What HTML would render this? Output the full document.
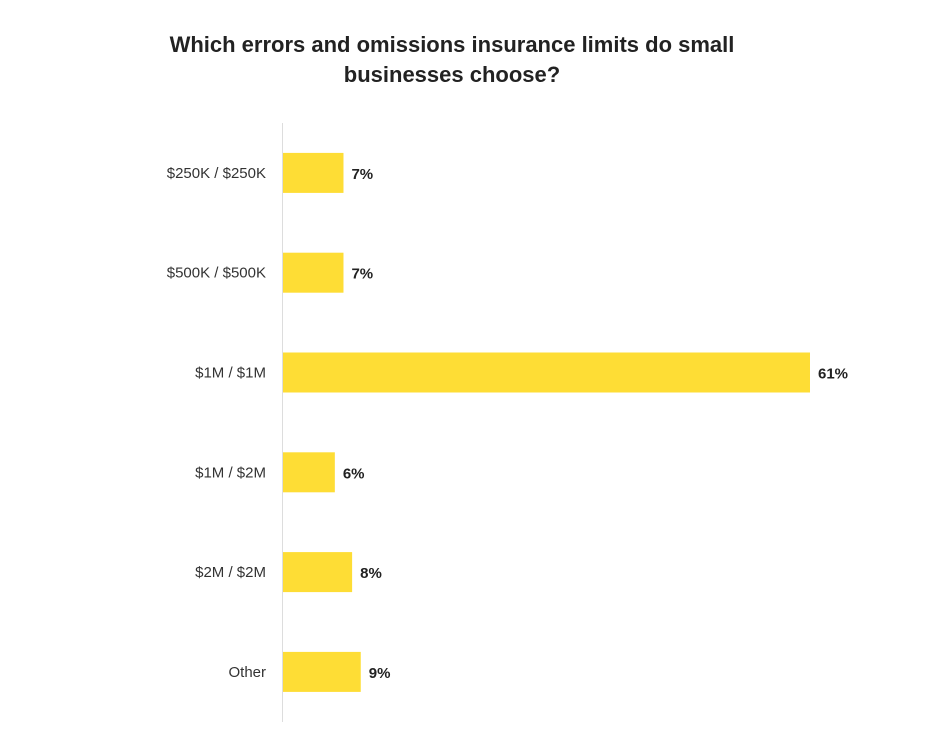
<!DOCTYPE html>
<html><head><meta charset="utf-8"><style>
html,body{margin:0;padding:0;background:#fff;}
body{width:940px;height:746px;overflow:hidden;font-family:"Liberation Sans","DejaVu Sans",sans-serif;}
</style></head><body>
<svg width="940" height="746" xmlns="http://www.w3.org/2000/svg">
<text x="452" y="52" text-anchor="middle" font-size="22" font-weight="bold" fill="#222">Which errors and omissions insurance limits do small</text>
<text x="452" y="82" text-anchor="middle" font-size="22" font-weight="bold" fill="#222">businesses choose?</text>
<line x1="282.5" y1="123" x2="282.5" y2="722" stroke="#ddd" stroke-width="1"/>
<g id="bars"></g>
</svg>
<script>
const categories = ["$250K / $250K","$500K / $500K","$1M / $1M","$1M / $2M","$2M / $2M","Other"];
const values = [7,7,61,6,8,9];
const valueLabels = ["7%","7%","61%","6%","8%","9%"];
const x0 = 283, pxPer = 527/61;
const yTop = 123, band = 99.8, barH = 40;
function xScale(v){ return x0 + v*pxPer; }
function yScale(i){ return yTop + band*i + band/2; }
const NS="http://www.w3.org/2000/svg";
const g=document.getElementById('bars');
categories.forEach((c,i)=>{
  const cy=yScale(i);
  const r=document.createElementNS(NS,'rect');
  
  
  r.setAttribute('x',x0);r.setAttribute('y',cy-barH/2);
  r.setAttribute('width',xScale(values[i])-x0);r.setAttribute('height',barH);
  r.setAttribute('fill','#FEDD35');
  g.appendChild(r);
  const t=document.createElementNS(NS,'text');
  
  
  t.setAttribute('x',266);t.setAttribute('y',cy+5);
  t.setAttribute('text-anchor','end');t.setAttribute('font-size','15');t.setAttribute('fill','#333');
  t.textContent=c;g.appendChild(t);
  const v=document.createElementNS(NS,'text');
  
  
  v.setAttribute('x',xScale(values[i])+8);v.setAttribute('y',cy+6);
  v.setAttribute('font-size','15');v.setAttribute('font-weight','bold');v.setAttribute('fill','#222');
  v.textContent=valueLabels[i];g.appendChild(v);
});
</script>
</body></html>
